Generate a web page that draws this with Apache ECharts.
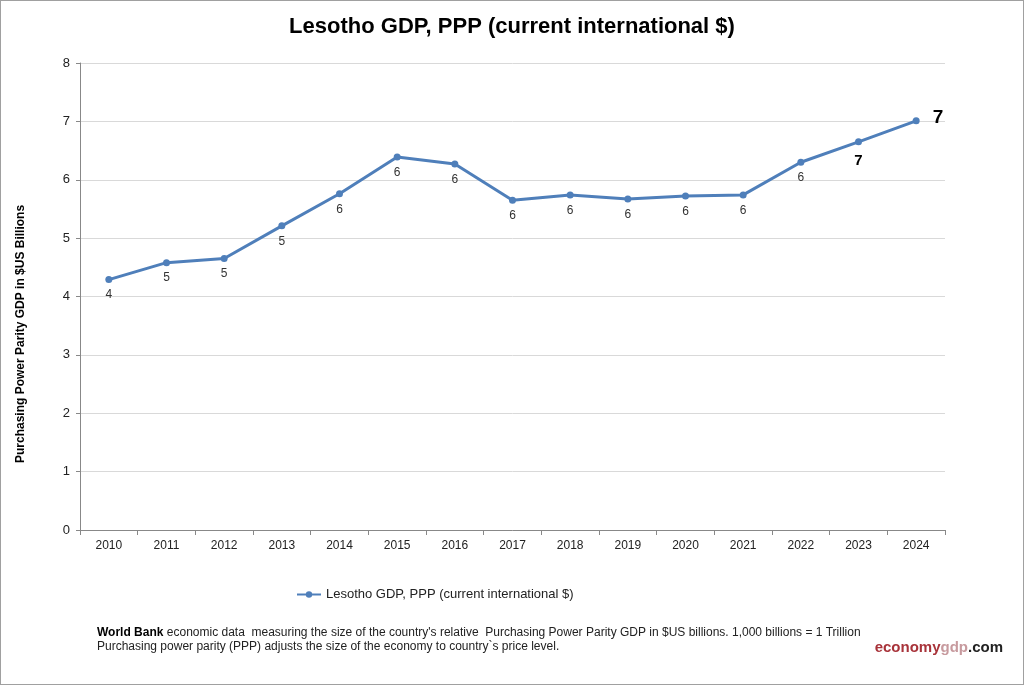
<!DOCTYPE html>
<html><head><meta charset="utf-8">
<script src="https://cdn.jsdelivr.net/npm/echarts@6/dist/echarts.min.js"></script>
<style>
html,body{margin:0;padding:0;background:#fff;}
#c{width:1024px;height:685px;box-sizing:border-box;border:1px solid #a0a0a0;}
</style></head>
<body><div id="c"></div>
<script>
const years = ['2010','2011','2012','2013','2014','2015','2016','2017','2018','2019','2020','2021','2022','2023','2024'];
const gdpPPP = [4.29,4.58,4.65,5.21,5.76,6.39,6.27,5.65,5.74,5.67,5.72,5.74,6.30,6.65,7.01];
const yTicks = [0,1,2,3,4,5,6,7,8];
const seriesName = 'Lesotho GDP, PPP (current international $)';
const titleText = 'Lesotho GDP, PPP (current international $)';
const yAxisTitle = 'Purchasing Power Parity GDP in $US Billions';

const chart = echarts.init(document.getElementById('c'));
const F = 'Liberation Sans, Arial, sans-serif';
const n = gdpPPP.length;
const seriesData = gdpPPP.map((v,i)=>{
  const d = {value:v};
  if (i === n-2) d.label = {fontSize:15, fontWeight:'bold', color:'#000', distance:8};
  if (i === n-1) d.label = {position:'right', fontSize:19, fontWeight:'bold', color:'#000', distance:13, offset:[0,-3]};
  return d;
});
chart.setOption({
  animation:false,
  textStyle:{fontFamily:F},
  title:{text:titleText,left:'center',top:10,textStyle:{fontFamily:F,fontSize:22,fontWeight:'bold',color:'#000'}},
  grid:{left:79,right:78,top:62,bottom:154},
  legend:{data:[seriesName],left:290,top:582,itemWidth:24,itemHeight:8,itemGap:2,
    textStyle:{fontFamily:F,fontSize:13,color:'#222'}},
  xAxis:{type:'category',data:years,boundaryGap:true,
    axisLine:{lineStyle:{color:'#888',width:1}},
    axisTick:{show:true,alignWithLabel:false,length:5,lineStyle:{color:'#888'}},
    axisLabel:{fontFamily:F,fontSize:12,color:'#222',margin:10}},
  yAxis:{type:'value',min:0,max:8,interval:1,
    axisLine:{show:true,lineStyle:{color:'#888',width:1}},
    axisTick:{show:true,length:4,lineStyle:{color:'#888'}},
    axisLabel:{fontFamily:F,fontSize:13,color:'#222',margin:10,
      formatter:v=>yTicks.includes(v)?String(v):''},
    splitLine:{lineStyle:{color:'#d9d9d9',width:1}}},
  series:[{name:seriesName,type:'line',data:seriesData,
    lineStyle:{color:'#4f7fba',width:3},
    itemStyle:{color:'#4f7fba'},
    symbol:'circle',symbolSize:7,
    label:{show:true,position:'bottom',distance:6,fontFamily:F,fontSize:12,color:'#333',
      formatter:p=>String(Math.round(p.value))}}],
  graphic:[
    {type:'text',rotation:Math.PI/2,
      style:{text:yAxisTitle,fontFamily:F,fontSize:12,fontWeight:'bold',fill:'#000'},
      x:14,y:462},
    {type:'text',left:96,top:625,
      style:{rich:{b:{fontFamily:F,fontSize:12,fontWeight:'bold',fill:'#000'},
                   n:{fontFamily:F,fontSize:12,fill:'#222'}},
        text:"{b|World Bank}{n| economic data  measuring the size of the country's relative  Purchasing Power Parity GDP in $US billions. 1,000 billions = 1 Trillion}\n{n|Purchasing power parity (PPP) adjusts the size of the economy to country`s price level.}",
        lineHeight:14}},
    {type:'text',right:20,top:639,
      style:{rich:{a:{fontFamily:F,fontSize:15,fontWeight:'bold',fill:'#a8333a'},
                   g:{fontFamily:F,fontSize:15,fontWeight:'bold',fill:'#c79a9e'},
                   c:{fontFamily:F,fontSize:15,fontWeight:'bold',fill:'#222'}},
        text:'{a|economy}{g|gdp}{c|.com}'}}
  ]
});
</script></body></html>
